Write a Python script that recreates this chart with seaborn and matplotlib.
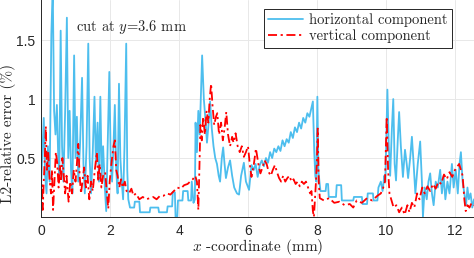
import numpy as np
import pandas as pd
import matplotlib
matplotlib.use("Agg")
import matplotlib.pyplot as plt
import seaborn as sns

# horizontal component (blue)
h_x = [0.00, 0.04, 0.08, 0.12, 0.16, 0.20, 0.25, 0.30, 0.34, 0.38, 0.42, 0.46, 0.50, 0.53,
       0.57, 0.61, 0.65, 0.70, 0.75, 0.79, 0.83, 0.87, 0.91, 0.96, 1.00, 1.04, 1.08, 1.13,
       1.19, 1.23, 1.27, 1.32, 1.37, 1.41, 1.45, 1.50, 1.55, 1.59, 1.64, 1.68, 1.72, 1.76,
       1.80, 1.85, 1.89, 1.94, 1.98, 2.02, 2.06, 2.10, 2.14, 2.18, 2.22, 2.26, 2.30, 2.34,
       2.38, 2.42, 2.47, 2.50, 2.53, 2.58, 2.70, 2.72, 2.85, 2.87, 3.15, 3.17, 3.40, 3.42,
       3.65, 3.67, 3.80, 3.82, 3.88, 3.90, 3.95, 3.97, 4.10, 4.12, 4.25, 4.27, 4.35, 4.37,
       4.42, 4.46, 4.48, 4.52, 4.56, 4.60, 4.67, 4.72, 4.76, 4.81, 4.86, 4.90, 4.95, 5.00,
       5.05, 5.10, 5.15, 5.19, 5.24, 5.28, 5.32, 5.36, 5.42, 5.48, 5.54, 5.60, 5.68, 5.74,
       5.80, 5.88, 5.94, 6.03, 6.10, 6.17, 6.22, 6.28, 6.34, 6.40, 6.46, 6.52, 6.58, 6.64,
       6.70, 6.76, 6.82, 6.88, 6.94, 7.00, 7.06, 7.12, 7.18, 7.24, 7.30, 7.36, 7.42, 7.48,
       7.54, 7.60, 7.66, 7.72, 7.78, 7.84, 7.88, 7.92, 7.95, 7.98, 8.01, 8.04, 8.07, 8.10,
       8.25, 8.27, 8.32, 8.34, 8.55, 8.57, 8.70, 8.72, 9.05, 9.07, 9.30, 9.32, 9.45, 9.47,
       9.62, 9.64, 9.75, 9.78, 9.85, 9.90, 9.95, 9.98, 10.04, 10.08, 10.12, 10.17, 10.21,
       10.25, 10.29, 10.34, 10.38, 10.43, 10.49, 10.55, 10.60, 10.64, 10.70, 10.75, 10.80,
       10.85, 10.92, 10.99, 11.04, 11.07, 11.12, 11.18, 11.23, 11.28, 11.33, 11.38, 11.44,
       11.50, 11.57, 11.62, 11.67, 11.72, 11.78, 11.84, 11.91, 11.96, 12.02, 12.08, 12.13,
       12.17, 12.22, 12.27, 12.32, 12.36, 12.40, 12.45, 12.50, 12.55]
h_y = [0.25, 0.55, 0.84, 0.35, 0.20, 0.60, 0.30, 1.55, 1.95, 0.90, 0.70, 0.95, 0.50, 0.35,
       1.58, 0.60, 0.30, 0.90, 1.69, 0.50, 0.90, 0.40, 0.20, 1.37, 0.50, 0.85, 0.30, 0.60,
       1.18, 0.45, 0.20, 0.60, 1.47, 0.50, 0.20, 0.55, 1.02, 0.45, 0.80, 0.30, 1.02, 0.35,
       0.60, 0.25, 0.05, 0.70, 1.23, 0.50, 0.30, 0.60, 0.95, 0.40, 0.20, 1.13, 0.50, 0.30,
       0.15, 0.60, 1.47, 0.40, 0.15, 0.08, 0.08, 0.13, 0.13, 0.04, 0.04, 0.08, 0.08, 0.04,
       0.04, 0.09, 0.09, 0.21, 0.21, 0.00, 0.00, 0.14, 0.14, 0.22, 0.22, 0.14, 0.14, 0.30,
       0.12, 0.15, 0.80, 0.55, 0.90, 0.70, 1.37, 1.00, 0.85, 0.63, 0.80, 0.98, 0.75, 0.60,
       0.50, 0.45, 0.35, 0.30, 0.50, 0.59, 0.45, 0.33, 0.42, 0.48, 0.35, 0.25, 0.20, 0.19,
       0.35, 0.46, 0.30, 0.23, 0.44, 0.40, 0.45, 0.34, 0.44, 0.48, 0.43, 0.50, 0.46, 0.55,
       0.50, 0.58, 0.55, 0.60, 0.56, 0.65, 0.60, 0.66, 0.63, 0.72, 0.67, 0.76, 0.72, 0.80,
       0.75, 0.84, 0.80, 0.88, 0.85, 0.93, 0.98, 0.55, 0.35, 0.30, 1.02, 0.40, 0.30, 0.22,
       0.22, 0.28, 0.28, 0.17, 0.17, 0.27, 0.27, 0.14, 0.14, 0.17, 0.17, 0.11, 0.11, 0.20,
       0.20, 0.14, 0.14, 0.25, 0.30, 0.22, 0.35, 0.30, 1.08, 0.60, 0.35, 0.75, 1.00,
       0.45, 0.31, 0.65, 0.89, 0.60, 0.34, 0.57, 0.45, 0.33, 0.50, 0.68, 0.45,
       0.20, 0.45, 0.64, 0.30, 0.00, 0.25, 0.15, 0.30, 0.37, 0.20, 0.10, 0.30,
       0.25, 0.40, 0.20, 0.35, 0.15, 0.30, 0.20, 0.45, 0.25, 0.40, 0.20, 0.45,
       0.55, 0.30, 0.20, 0.10, 0.25, 0.15, 0.20, 0.08, 0.15]

# vertical component (red)
v_x = [0.00, 0.03, 0.05, 0.08, 0.11, 0.14, 0.17, 0.21, 0.25, 0.29, 0.32, 0.35, 0.39, 0.43,
       0.47, 0.51, 0.55, 0.58, 0.62, 0.66, 0.70, 0.74, 0.80, 0.85, 0.90, 0.95, 1.00, 1.04,
       1.08, 1.12, 1.16, 1.20, 1.25, 1.30, 1.35, 1.40, 1.45, 1.50, 1.56, 1.62, 1.66, 1.70,
       1.75, 1.80, 1.86, 1.91, 1.95, 1.99, 2.04, 2.10, 2.14, 2.18, 2.22, 2.27, 2.32, 2.37,
       2.43, 2.48, 2.55, 2.62, 2.68, 2.75, 2.85, 2.95, 3.05, 3.15, 3.25, 3.35, 3.45, 3.55,
       3.65, 3.75, 3.85, 3.95, 4.05, 4.15, 4.25, 4.32, 4.40, 4.47, 4.52, 4.56, 4.59, 4.62,
       4.66, 4.70, 4.75, 4.80, 4.85, 4.89, 4.93, 4.97, 5.02, 5.07, 5.11, 5.16, 5.22, 5.27,
       5.32, 5.37, 5.42, 5.48, 5.54, 5.58, 5.64, 5.70, 5.76, 5.82, 5.88, 5.94, 6.00, 6.05,
       6.10, 6.17, 6.23, 6.30, 6.36, 6.42, 6.48, 6.54, 6.60, 6.66, 6.72, 6.78, 6.84, 6.90,
       6.96, 7.02, 7.08, 7.14, 7.20, 7.26, 7.32, 7.38, 7.44, 7.50, 7.56, 7.62, 7.68, 7.74,
       7.80, 7.84, 7.88, 7.91, 7.94, 7.97, 8.00, 8.02, 8.05, 8.08, 8.20, 8.35, 8.50, 8.65,
       8.80, 8.95, 9.05, 9.15, 9.30, 9.45, 9.60, 9.75, 9.85, 9.92, 9.97, 10.02, 10.06,
       10.10, 10.15, 10.22, 10.30, 10.38, 10.46, 10.54, 10.62, 10.68, 10.75, 10.82, 10.90,
       10.97, 11.05, 11.12, 11.20, 11.28, 11.36, 11.44, 11.52, 11.60, 11.68, 11.76, 11.84,
       11.92, 12.00, 12.07, 12.12, 12.17, 12.22, 12.27, 12.31, 12.36, 12.42, 12.48, 12.55]
v_y = [0.15, 0.27, 0.06, 0.30, 0.50, 0.77, 0.40, 0.55, 0.31, 0.20, 0.40, 0.06, 0.30, 0.55,
       0.46, 0.25, 0.44, 0.30, 0.50, 0.35, 0.20, 0.35, 0.13, 0.30, 0.20, 0.40, 0.30, 0.45,
       0.62, 0.35, 0.20, 0.30, 0.42, 0.25, 0.35, 0.15, 0.30, 0.22, 0.40, 0.55, 0.30, 0.45,
       0.25, 0.35, 0.38, 0.20, 0.07, 0.30, 0.45, 0.60, 0.65, 0.40, 0.35, 0.25, 0.32, 0.25,
       0.30, 0.22, 0.20, 0.24, 0.18, 0.20, 0.15, 0.17, 0.15, 0.16, 0.17, 0.15, 0.18, 0.18,
       0.20, 0.19, 0.22, 0.25, 0.24, 0.27, 0.28, 0.30, 0.32, 0.35, 0.30, 0.06, 0.40, 0.78,
       0.65, 0.85, 0.70, 0.90, 0.80, 1.00, 1.13, 0.95, 0.78, 0.85, 0.88, 0.70, 0.80, 0.65,
       0.75, 0.89, 0.70, 0.60, 0.68, 0.63, 0.71, 0.60, 0.55, 0.60, 0.51, 0.55, 0.60, 0.45,
       0.34, 0.45, 0.58, 0.45, 0.37, 0.42, 0.48, 0.45, 0.38, 0.35, 0.40, 0.44, 0.38, 0.33,
       0.30, 0.35, 0.30, 0.33, 0.35, 0.30, 0.32, 0.28, 0.30, 0.26, 0.30, 0.28, 0.30, 0.25,
       0.20, 0.22, 0.05, 0.00, 0.15, 0.30, 0.50, 0.75, 0.30, 0.16, 0.14, 0.16, 0.12, 0.13,
       0.10, 0.11, 0.08, 0.14, 0.12, 0.16, 0.14, 0.18, 0.20, 0.25, 0.30, 0.85, 0.40,
       0.20, 0.15, 0.08, 0.10, 0.04, 0.08, 0.02, 0.10, 0.04, 0.12, 0.08, 0.20,
       0.15, 0.25, 0.20, 0.26, 0.22, 0.28, 0.24, 0.30, 0.28, 0.36, 0.32, 0.38,
       0.34, 0.40, 0.43, 0.45, 0.40, 0.35, 0.15, 0.05, 0.10, 0.08, 0.12, 0.10]

x_ticks = [0, 2, 4, 6, 8, 10, 12]
y_ticks = [0.5, 1, 1.5]
y_tick_labels = ["0.5", "1", "1.5"]

sns.set_theme(style="whitegrid")
plt.rcParams["font.family"] = ["Liberation Sans", "DejaVu Sans"]
plt.rcParams["mathtext.fontset"] = "cm"

hor = pd.DataFrame({"x": h_x, "err": h_y})
ver = pd.DataFrame({"x": v_x, "err": v_y})

fig = plt.figure(figsize=(4.74, 2.58), dpi=100)
ax = fig.add_axes([41 / 474, 41 / 258, 433 / 474, 217 / 258])

sns.lineplot(data=hor, x="x", y="err", ax=ax, color="#4DBEEE", linewidth=1.3,
             estimator=None, sort=False, label="horizontal component")
sns.lineplot(data=ver, x="x", y="err", ax=ax, color="#FF0000", linewidth=1.3,
             estimator=None, sort=False, linestyle=(0, (5, 2, 1.2, 2)),
             label="vertical component")

ax.set_xlim(0, 12.55)
ax.set_ylim(0, 1.84)
ax.set_xticks(x_ticks)
ax.set_yticks(y_ticks)
ax.set_yticklabels(y_tick_labels)
ax.tick_params(axis="both", labelsize=10, direction="in", length=3,
               color="#262626", labelcolor="#262626", width=0.6)
ax.tick_params(axis="x", pad=5)
ax.tick_params(axis="y", pad=4)

ax.grid(True, color="#e8e8e8", linewidth=0.7)
ax.set_facecolor("white")
for side in ["top", "right"]:
    ax.spines[side].set_visible(False)
for side in ["left", "bottom"]:
    ax.spines[side].set_color("#262626")
    ax.spines[side].set_linewidth(0.7)

serif = dict(family="cmr10", fontsize=10.5)
label_font = dict(family="cmr10", fontsize=11)
ax.set_xlabel(r"$x$ -coordinate (mm)", va="center", **label_font)
ax.set_ylabel("L2-relative error (%)", va="center", **label_font)
ax.xaxis.set_label_coords(0.5, -0.14)
ax.yaxis.set_label_coords(-0.077, 0.385)

ax.text(1.0, 1.61, r"cut at $y$=3.6 mm", va="center", ha="left", **serif)

leg = ax.legend(loc="upper right", bbox_to_anchor=(0.949, 0.959), borderaxespad=0,
                frameon=True, fancybox=False, framealpha=1, edgecolor="#262626",
                handlelength=2.4, labelspacing=0.15, borderpad=0.3, handletextpad=0.4,
                prop={"family": "cmr10", "size": 10.5})
leg.get_frame().set_linewidth(0.7)

fig.savefig("out.png", dpi=100)
